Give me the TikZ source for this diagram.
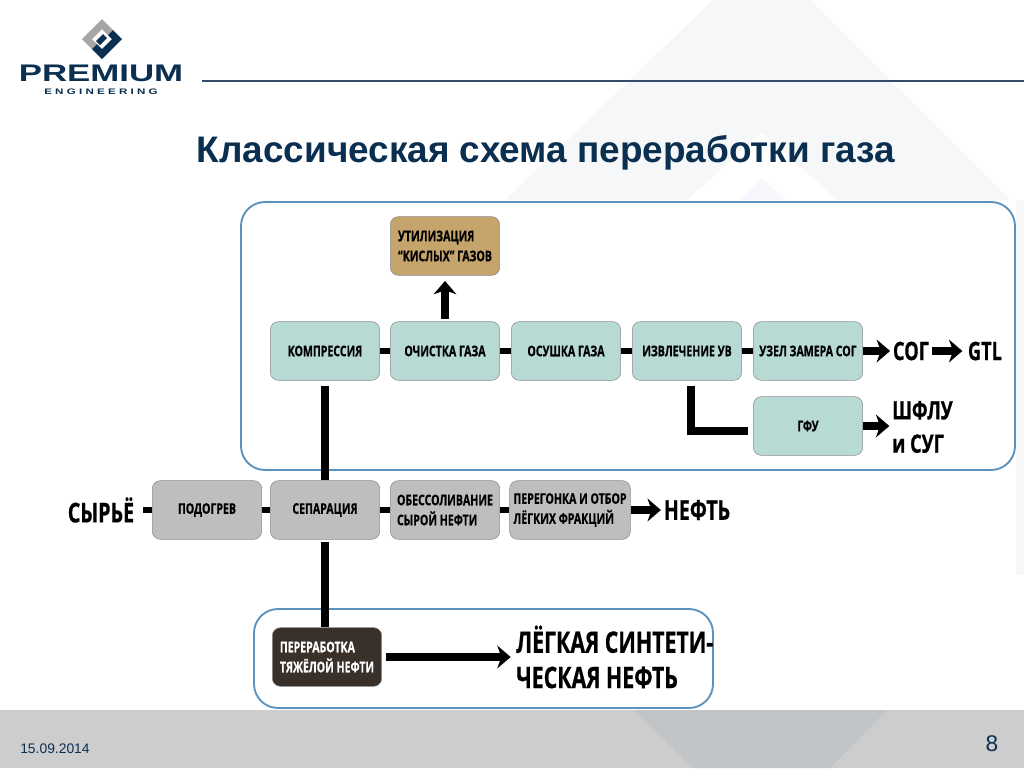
\documentclass[tikz,border=0pt]{standalone}
\usepackage{fontspec}
\usepackage{xcolor}
\usetikzlibrary{arrows.meta}
\setmainfont{Liberation Sans}
\newfontfamily\condfont[FakeStretch=0.72,FakeBold=0.6]{Open Sans}
\newfontfamily\wideHead[FakeStretch=1.45]{Liberation Sans}
\definecolor{premium-navy}{HTML}{0B2F50}
\definecolor{premium-blue}{HTML}{5B93BE}
\definecolor{premium-gray}{HTML}{CDCDCD}
\definecolor{premium-tint}{HTML}{C1C5C8}
\definecolor{page-tint}{HTML}{F5F7F8}
\definecolor{box-teal}{HTML}{B7DAD5}
\definecolor{box-gray}{HTML}{BEBEBE}
\definecolor{box-tan}{HTML}{C6A56C}
\definecolor{box-brown}{HTML}{3A302A}
\tikzset{
    procbox/.style={draw=black!45, rounded corners=6pt, minimum width=82pt, minimum height=44pt, inner sep=0pt, align=left, font=\condfont\bfseries\fontsize{11}{15}\selectfont},
    tealbox/.style={procbox, fill=box-teal},
    graybox/.style={procbox, fill=box-gray},
    outlabel/.style={inner sep=0pt, align=left, font=\condfont\bfseries\fontsize{19}{25}\selectfont},
    biglabel/.style={outlabel, font=\condfont\bfseries\fontsize{20.5}{25}\selectfont},
    frame/.style={draw=premium-blue, line width=1.4pt, fill=white, rounded corners=18pt},
    link/.style={line width=4.5pt},
    uplink/.style={line width=6pt},
    flow/.style={line width=5.5pt, shorten >=2pt, -{Stealth[length=10pt,width=17pt,inset=3pt]}}
}
\begin{document}
\begin{tikzpicture}[x=0.75pt, y=-0.75pt]
    \useasboundingbox (0,0) rectangle (1024,768);

    % Background
    \fill[white] (0,0) rectangle (1024,768);
    \fill[page-tint] (713,0) -- (810,0) -- (1010,200) -- (837,200) -- (762,132) -- (687,200) -- (505,200) -- cycle;
    \fill[page-tint!70!blue!10] (762,178) -- (785,200) -- (740,200) -- cycle;
    \fill[page-tint] (1016,200) rectangle (1024,575);
    \fill[premium-gray] (0,710) rectangle (1024,768);
    \fill[premium-tint] (633,710) -- (887,710) -- (830,768) -- (693,768) -- cycle;

    % Logo
    \fill[black!35] (102,19) -- (113,30) -- (108,35) -- (102,29) -- (92,39) -- (97,44) -- (92,49) -- (82,39) -- cycle;
    \fill[premium-navy] (122,39) -- (102,59) -- (92,49) -- (97,44) -- (102,49) -- (112,39) -- (108,35) -- (113,30) -- cycle;
    \fill[premium-navy] (103,34) -- (107,38) -- (100,45) -- (96,41) -- cycle;
    \node[inner sep=0pt, text=premium-navy] (logo) at (101,73) {\wideHead\bfseries\fontsize{18}{18}\selectfont PREMIUM};
    \node[inner sep=0pt, text=premium-navy] (logosub) at (101,92) {\wideHead\bfseries\fontsize{6}{6}\selectfont E N G I N E E R I N G};
    \coordinate (rulestart) at (202,81);
    \coordinate (ruleend) at (1024,81);
    \draw[premium-navy!85, line width=1.2pt] (rulestart) -- (ruleend);

    % Title
    \node[inner sep=0pt, text=premium-navy] (title) at (546,153) {\bfseries\fontsize{27.7}{30}\selectfont Классическая схема переработки газа};

    % Footer
    \node[inner sep=0pt, anchor=west, text=premium-navy] (date) at (20,749) {\fontsize{10.4}{12}\selectfont 15.09.2014};
    \node[inner sep=0pt, text=premium-navy] (page) at (992,744) {\fontsize{17}{19}\selectfont 8};

    % Frames
    \fill[white] (60,200) rectangle (1016,710);
    \draw[frame] (241,202) rectangle (1015,470);
    \draw[frame] (254,609) rectangle (713,708);

    % Gas line
    \node[procbox, fill=box-tan] (util) at (445,246) {УТИЛИЗАЦИЯ\\“КИСЛЫХ” ГАЗОВ};
    \node[tealbox] (compr) at (325,351) {КОМПРЕССИЯ};
    \node[tealbox] (clean) at (445,351) {ОЧИСТКА ГАЗА};
    \node[tealbox] (dry) at (566,351) {ОСУШКА ГАЗА};
    \node[tealbox] (extract) at (687,351) {ИЗВЛЕЧЕНИЕ УВ};
    \node[tealbox] (meter) at (808,351) {УЗЕЛ ЗАМЕРА СОГ};
    \node[tealbox] (gfu) at (808,426) {ГФУ};

    % Oil line
    \node[graybox] (heat) at (207,510) {ПОДОГРЕВ};
    \node[graybox] (sep) at (325,510) {СЕПАРАЦИЯ};
    \node[graybox] (desalt) at (445,510) {ОБЕССОЛИВАНИЕ\\СЫРОЙ НЕФТИ};
    \node[graybox, minimum width=90.5pt] (distil) at (570,510) {ПЕРЕГОНКА И ОТБОР\\ЛЁГКИХ ФРАКЦИЙ};
    \node[procbox, fill=box-brown, text=white] (heavy) at (327,657) {ПЕРЕРАБОТКА\\ТЯЖЁЛОЙ НЕФТИ};

    % Labels
    \node[outlabel] (sog) at (911,351) {СОГ};
    \node[outlabel] (gtl) at (985,351) {GTL};
    \node[outlabel, anchor=west] (shflu) at (892,427) {ШФЛУ\\и СУГ};
    \node[biglabel] (raw) at (101,510) {СЫРЬЁ};
    \node[biglabel] (oil) at (697,510) {НЕФТЬ};
    \node[outlabel, anchor=west, font=\condfont\bfseries\fontsize{22.2}{26.5}\selectfont] (synth) at (516,657) {ЛЁГКАЯ СИНТЕТИ-\\ЧЕСКАЯ НЕФТЬ};

    % Connectors
    \draw[flow, line width=6pt] ([yshift=2pt]clean.north) -- ([yshift=-2pt]util.south);
    \foreach \a/\b in {compr/clean, clean/dry, dry/extract, extract/meter, heat/sep, sep/desalt, desalt/distil} {
        \draw[link] (\a) -- (\b);
    }
    \draw[link] (raw.east) ++(9,0) -- (heat.west);
    \draw[uplink] ([yshift=-4pt]compr.south) -- (sep.north);
    \draw[uplink] ([yshift=-2pt]sep.south) -- (sep.south |- heavy.north);
    \draw[uplink] ([xshift=3pt,yshift=-4pt]extract.south) |- ([xshift=-4pt,yshift=-4pt]gfu.west);
    \draw[flow] (meter) -- (sog);
    \draw[flow, shorten >=4pt] ([xshift=2pt]sog.east) -- (gtl);
    \draw[flow] (gfu) -- (gfu -| shflu.west);
    \draw[flow] (distil) -- (oil);
    \draw[flow, shorten >=4pt] ([xshift=3pt]heavy.east) -- (heavy -| synth.west);
\end{tikzpicture}
\end{document}
